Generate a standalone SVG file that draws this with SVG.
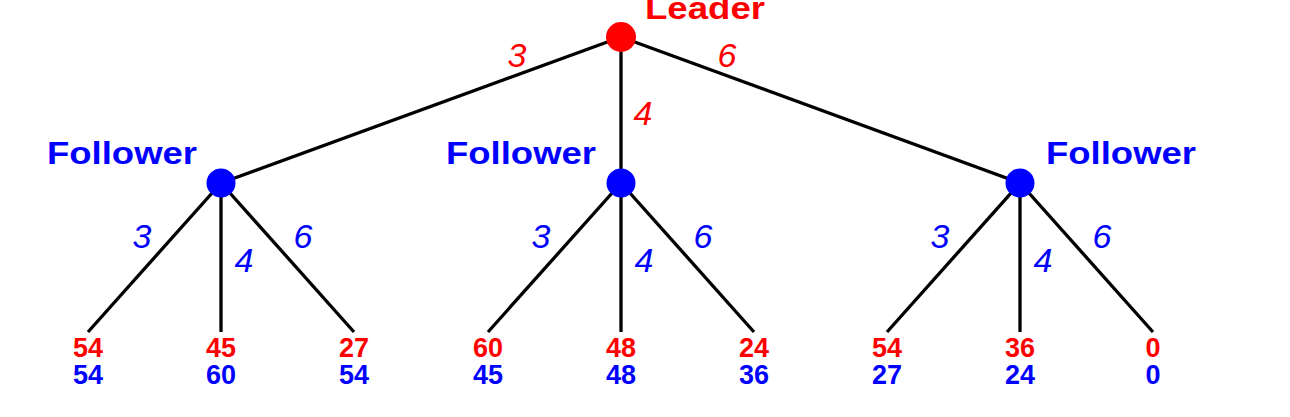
<svg xmlns="http://www.w3.org/2000/svg" width="1290" height="417" viewBox="0 0 1290 417">
<style>
.edge{stroke:#000;stroke-width:3.3;fill:none}
.lbl{font-family:"Liberation Sans",Arial,sans-serif;font-weight:bold;font-size:31px;text-anchor:middle}
.act{font-family:"Liberation Sans",Arial,sans-serif;font-style:italic;font-size:34px;text-anchor:middle}
.pay{font-family:"Liberation Sans",Arial,sans-serif;font-weight:bold;font-size:27px;text-anchor:middle}
.r{fill:#ff0000}
.b{fill:#0000ff}
</style>
<rect width="1290" height="417" fill="#fff"/>
<g id="connectors">
<line class="edge" x1="621" y1="37" x2="221" y2="183"/>
<line class="edge" x1="621" y1="37" x2="621" y2="183"/>
<line class="edge" x1="621" y1="37" x2="1020" y2="183"/>
<line class="edge" x1="221" y1="183" x2="88" y2="332"/>
<line class="edge" x1="221" y1="183" x2="221" y2="332"/>
<line class="edge" x1="221" y1="183" x2="354" y2="332"/>
<line class="edge" x1="621" y1="183" x2="488" y2="332"/>
<line class="edge" x1="621" y1="183" x2="621" y2="332"/>
<line class="edge" x1="621" y1="183" x2="754" y2="332"/>
<line class="edge" x1="1020" y1="183" x2="887" y2="332"/>
<line class="edge" x1="1020" y1="183" x2="1020" y2="332"/>
<line class="edge" x1="1020" y1="183" x2="1153" y2="332"/>
<text class="act r" x="517" y="67">3</text>
<text class="act r" x="643" y="125">4</text>
<text class="act r" x="727" y="67">6</text>
<text class="act b" x="142" y="248">3</text>
<text class="act b" x="244" y="272">4</text>
<text class="act b" x="303" y="248">6</text>
<text class="act b" x="541" y="248">3</text>
<text class="act b" x="644" y="272">4</text>
<text class="act b" x="703" y="248">6</text>
<text class="act b" x="940" y="248">3</text>
<text class="act b" x="1043" y="272">4</text>
<text class="act b" x="1102" y="248">6</text>
</g>
<g id="leader">
<circle cx="621" cy="37" r="15" class="r"/>
<text class="lbl r" x="705" y="19" textLength="120" lengthAdjust="spacingAndGlyphs">Leader</text>
</g>
<g id="follower-left">
<circle cx="221" cy="183" r="14.5" class="b"/>
<text class="lbl b" x="122" y="164" textLength="150" lengthAdjust="spacingAndGlyphs">Follower</text>
</g>
<g id="follower-mid">
<circle cx="621" cy="183" r="14.5" class="b"/>
<text class="lbl b" x="521" y="164" textLength="150" lengthAdjust="spacingAndGlyphs">Follower</text>
</g>
<g id="follower-right">
<circle cx="1020" cy="183" r="14.5" class="b"/>
<text class="lbl b" x="1121" y="164" textLength="150" lengthAdjust="spacingAndGlyphs">Follower</text>
</g>
<g id="leaf-1"><text class="pay r" x="88" y="357">54</text><text class="pay b" x="88" y="384">54</text></g>
<g id="leaf-2"><text class="pay r" x="221" y="357">45</text><text class="pay b" x="221" y="384">60</text></g>
<g id="leaf-3"><text class="pay r" x="354" y="357">27</text><text class="pay b" x="354" y="384">54</text></g>
<g id="leaf-4"><text class="pay r" x="488" y="357">60</text><text class="pay b" x="488" y="384">45</text></g>
<g id="leaf-5"><text class="pay r" x="621" y="357">48</text><text class="pay b" x="621" y="384">48</text></g>
<g id="leaf-6"><text class="pay r" x="754" y="357">24</text><text class="pay b" x="754" y="384">36</text></g>
<g id="leaf-7"><text class="pay r" x="887" y="357">54</text><text class="pay b" x="887" y="384">27</text></g>
<g id="leaf-8"><text class="pay r" x="1020" y="357">36</text><text class="pay b" x="1020" y="384">24</text></g>
<g id="leaf-9"><text class="pay r" x="1153" y="357">0</text><text class="pay b" x="1153" y="384">0</text></g>
</svg>
